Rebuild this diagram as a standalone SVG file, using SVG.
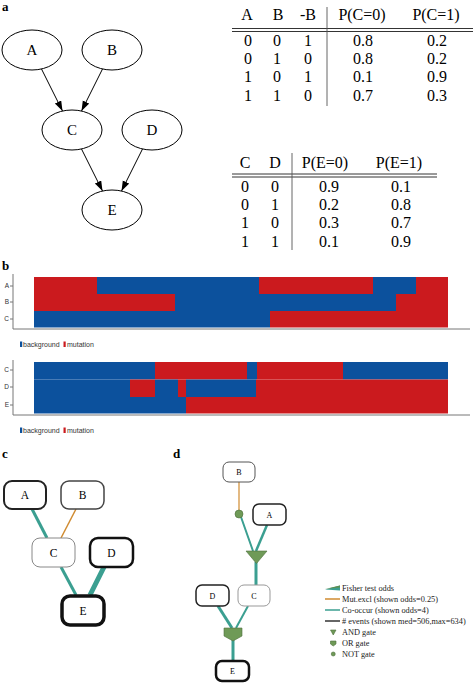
<svg xmlns="http://www.w3.org/2000/svg" width="473" height="685" viewBox="0 0 473 685">
<defs>
<marker id="arr" markerUnits="userSpaceOnUse" markerWidth="11" markerHeight="8" refX="10" refY="3.5" orient="auto"><path d="M0,0 L10,3.5 L0,7 z" fill="#000"/></marker>
<style>
.lbl{font-family:"Liberation Serif",serif;font-weight:bold;font-size:13px;fill:#000}
.ell{fill:#fff;stroke:#000;stroke-width:1}
.et{font-family:"Liberation Serif",serif;font-size:15px;text-anchor:middle;fill:#000}
.tt{font-family:"Liberation Serif",serif;font-size:16px;text-anchor:middle;fill:#000}
.arrow{stroke:#000;stroke-width:1;fill:none;marker-end:url(#arr)}
.ax{stroke:#777;stroke-width:1;fill:none}
.hl{font-family:"Liberation Sans",sans-serif;font-size:6.5px;fill:#333;text-anchor:end}
.lg{font-family:"Liberation Sans",sans-serif;font-size:7px;fill:#333}
.bl{fill:#0c519d}.rd{fill:#cb1a1e}
.rn{fill:#fff}
.ct{font-family:"Liberation Serif",serif;font-size:11.5px;text-anchor:middle;fill:#000}
.dt{font-family:"Liberation Serif",serif;font-size:8px;text-anchor:middle;fill:#000}
.teal{stroke:#3b9f91;fill:none}
.org{stroke:#d08b30;fill:none}
.gate{fill:#6f9a57;stroke:#4d6e3c;stroke-width:0.6}
.lt{font-family:"Liberation Serif",serif;font-size:8.3px;fill:#222}
</style>
</defs>

<!-- Panel labels -->
<text class="lbl" x="2" y="11">a</text>
<text class="lbl" x="2" y="270">b</text>
<text class="lbl" x="2" y="458">c</text>
<text class="lbl" x="173" y="458">d</text>

<!-- Panel a graph -->
<g id="a-edges">
<line class="arrow" x1="41.5" y1="69" x2="62.5" y2="111"/>
<line class="arrow" x1="102.5" y1="69" x2="81.5" y2="111"/>
<line class="arrow" x1="81.5" y1="149" x2="102.5" y2="191"/>
<line class="arrow" x1="142.5" y1="149" x2="121.5" y2="191"/>
</g>
<g id="a-A"><ellipse class="ell" cx="32" cy="50" rx="30" ry="20"/><text class="et" x="32" y="55">A</text></g>
<g id="a-B"><ellipse class="ell" cx="112" cy="50" rx="30" ry="20"/><text class="et" x="112" y="55">B</text></g>
<g id="a-C"><ellipse class="ell" cx="72" cy="130" rx="30" ry="20"/><text class="et" x="72" y="135">C</text></g>
<g id="a-D"><ellipse class="ell" cx="152" cy="130" rx="30" ry="20"/><text class="et" x="152" y="135">D</text></g>
<g id="a-E"><ellipse class="ell" cx="112" cy="210" rx="30" ry="20"/><text class="et" x="112" y="215">E</text></g>

<!-- Table 1 -->
<g id="table1">
<text class="tt" x="247" y="20">A</text>
<text class="tt" x="278" y="20">B</text>
<text class="tt" x="308" y="20">-B</text>
<text class="tt" x="362" y="20">P(C=0)</text>
<text class="tt" x="436" y="20">P(C=1)</text>
<line x1="232" y1="28.5" x2="473" y2="28.5" stroke="#000" stroke-width="0.8"/>
<line x1="232" y1="31.5" x2="473" y2="31.5" stroke="#000" stroke-width="0.8"/>
<line x1="327" y1="7" x2="327" y2="106" stroke="#555" stroke-width="0.9"/>
<text class="tt" x="248" y="46">0</text><text class="tt" x="277" y="46">0</text><text class="tt" x="308" y="46">1</text><text class="tt" x="363" y="46">0.8</text><text class="tt" x="437" y="46">0.2</text>
<text class="tt" x="248" y="64">0</text><text class="tt" x="277" y="64">1</text><text class="tt" x="308" y="64">0</text><text class="tt" x="363" y="64">0.8</text><text class="tt" x="437" y="64">0.2</text>
<text class="tt" x="248" y="82">1</text><text class="tt" x="277" y="82">0</text><text class="tt" x="308" y="82">1</text><text class="tt" x="363" y="82">0.1</text><text class="tt" x="437" y="82">0.9</text>
<text class="tt" x="248" y="101">1</text><text class="tt" x="277" y="101">1</text><text class="tt" x="308" y="101">0</text><text class="tt" x="363" y="101">0.7</text><text class="tt" x="437" y="101">0.3</text>
</g>

<!-- Table 2 -->
<g id="table2">
<text class="tt" x="245" y="168">C</text>
<text class="tt" x="275" y="168">D</text>
<text class="tt" x="325" y="168">P(E=0)</text>
<text class="tt" x="399" y="168">P(E=1)</text>
<line x1="232" y1="174" x2="437" y2="174" stroke="#000" stroke-width="0.8"/>
<line x1="232" y1="177" x2="437" y2="177" stroke="#000" stroke-width="0.8"/>
<line x1="292" y1="153" x2="292" y2="250" stroke="#555" stroke-width="0.9"/>
<text class="tt" x="245" y="192">0</text><text class="tt" x="275" y="192">0</text><text class="tt" x="329" y="192">0.9</text><text class="tt" x="401" y="192">0.1</text>
<text class="tt" x="245" y="210">0</text><text class="tt" x="275" y="210">1</text><text class="tt" x="329" y="210">0.2</text><text class="tt" x="401" y="210">0.8</text>
<text class="tt" x="245" y="228">1</text><text class="tt" x="275" y="228">0</text><text class="tt" x="329" y="228">0.3</text><text class="tt" x="401" y="228">0.7</text>
<text class="tt" x="245" y="247">1</text><text class="tt" x="275" y="247">1</text><text class="tt" x="329" y="247">0.1</text><text class="tt" x="401" y="247">0.9</text>
</g>

<!-- Heatmap 1 -->
<g id="heatmap1">
<rect class="rd" x="34" y="277" width="63" height="17"/>
<rect class="bl" x="97" y="277" width="162" height="17"/>
<rect class="rd" x="259" y="277" width="114" height="17"/>
<rect class="bl" x="373" y="277" width="43" height="17"/>
<rect class="rd" x="416" y="277" width="32" height="17"/>
<rect class="rd" x="34" y="294" width="141" height="17"/>
<rect class="bl" x="175" y="294" width="221" height="17"/>
<rect class="rd" x="396" y="294" width="52" height="17"/>
<rect class="bl" x="34" y="311" width="236" height="16.5"/>
<rect class="rd" x="270" y="311" width="178" height="16.5"/>
<polyline class="ax" points="13,274 13,329 470,329"/>
<line class="ax" x1="10" y1="286" x2="13" y2="286"/>
<line class="ax" x1="10" y1="302" x2="13" y2="302"/>
<line class="ax" x1="10" y1="319" x2="13" y2="319"/>
<text class="hl" x="9" y="288.3">A</text>
<text class="hl" x="9" y="304.3">B</text>
<text class="hl" x="9" y="321.3">C</text>
<rect class="bl" x="20" y="341.5" width="2.2" height="5.5"/>
<text class="lg" x="23" y="347">background</text>
<rect class="rd" x="63.5" y="341.5" width="2.2" height="5.5"/>
<text class="lg" x="67" y="347">mutation</text>
</g>

<!-- Heatmap 2 -->
<g id="heatmap2">
<rect class="bl" x="34" y="362" width="121" height="17.5"/>
<rect class="rd" x="155" y="362" width="92" height="17.5"/>
<rect class="bl" x="247" y="362" width="10" height="17.5"/>
<rect class="rd" x="257" y="362" width="86" height="17.5"/>
<rect class="bl" x="343" y="362" width="105" height="17.5"/>
<rect class="bl" x="34" y="379.5" width="96" height="17.5"/>
<rect class="rd" x="130" y="379.5" width="25" height="17.5"/>
<rect class="bl" x="155" y="379.5" width="23" height="17.5"/>
<rect class="rd" x="178" y="379.5" width="8" height="17.5"/>
<rect class="bl" x="186" y="379.5" width="70" height="17.5"/>
<rect class="rd" x="256" y="379.5" width="192" height="17.5"/>
<rect class="bl" x="34" y="397" width="152" height="16.5"/>
<rect class="rd" x="186" y="397" width="262" height="16.5"/>
<polyline class="ax" points="13,360 13,415 470,415"/>
<line class="ax" x1="10" y1="370" x2="13" y2="370"/>
<line class="ax" x1="10" y1="387" x2="13" y2="387"/>
<line class="ax" x1="10" y1="405" x2="13" y2="405"/>
<text class="hl" x="9" y="372.3">C</text>
<text class="hl" x="9" y="389.3">D</text>
<text class="hl" x="9" y="407.3">E</text>
<rect class="bl" x="20" y="427.5" width="2.2" height="5.5"/>
<text class="lg" x="23" y="433">background</text>
<rect class="rd" x="63.5" y="427.5" width="2.2" height="5.5"/>
<text class="lg" x="67" y="433">mutation</text>
</g>

<!-- Panel c -->
<g id="c-edges">
<line class="teal" x1="32" y1="509" x2="47" y2="538" stroke-width="3"/>
<line class="org" x1="76" y1="509" x2="61" y2="538" stroke-width="1.5"/>
<line class="teal" x1="61" y1="567" x2="76" y2="595" stroke-width="3"/>
<line class="teal" x1="104" y1="567" x2="90" y2="595" stroke-width="5"/>
</g>
<g id="c-A"><rect class="rn" x="4" y="481" width="42" height="28" rx="8" stroke="#222" stroke-width="2"/><text class="ct" x="25" y="499">A</text></g>
<g id="c-B"><rect class="rn" x="61" y="481" width="43" height="28" rx="8" stroke="#444" stroke-width="1.5"/><text class="ct" x="82.5" y="499">B</text></g>
<g id="c-C"><rect class="rn" x="32" y="538" width="43" height="29" rx="8" stroke="#888" stroke-width="1"/><text class="ct" x="53.5" y="557">C</text></g>
<g id="c-D"><rect class="rn" x="90" y="538" width="43" height="29" rx="8" stroke="#111" stroke-width="2.5"/><text class="ct" x="111.5" y="557">D</text></g>
<g id="c-E"><rect class="rn" x="62" y="596" width="42" height="29" rx="8" stroke="#111" stroke-width="3.5"/><text class="ct" x="83" y="615">E</text></g>

<!-- Panel d -->
<g id="d-edges">
<line class="org" x1="239" y1="482" x2="239" y2="511" stroke-width="1.2"/>
<line class="teal" x1="241" y1="517" x2="253" y2="551" stroke-width="2"/>
<line class="teal" x1="267" y1="525" x2="256" y2="551" stroke-width="2.5"/>
<line class="teal" x1="256" y1="562" x2="256" y2="585" stroke-width="3"/>
<line class="teal" x1="218" y1="606" x2="232" y2="628" stroke-width="3"/>
<line class="teal" x1="248" y1="606" x2="236" y2="628" stroke-width="2"/>
<line class="teal" x1="233" y1="640" x2="233" y2="661" stroke-width="3"/>
</g>
<g id="d-B"><rect class="rn" x="223" y="462" width="32" height="20" rx="6" stroke="#555" stroke-width="1"/><text class="dt" x="239" y="475">B</text></g>
<g id="d-A"><rect class="rn" x="253" y="504" width="33" height="21" rx="6" stroke="#222" stroke-width="1.5"/><text class="dt" x="269.5" y="517.5">A</text></g>
<g id="d-C"><rect class="rn" x="238" y="585" width="32" height="21" rx="6" stroke="#999" stroke-width="1"/><text class="dt" x="254" y="598.5">C</text></g>
<g id="d-D"><rect class="rn" x="196" y="585" width="33" height="21" rx="6" stroke="#222" stroke-width="1.5"/><text class="dt" x="212.5" y="598.5">D</text></g>
<g id="d-E"><rect class="rn" x="216" y="661" width="33" height="20" rx="6" stroke="#111" stroke-width="2.5"/><text class="dt" x="232.5" y="674">E</text></g>
<g id="d-not"><circle class="gate" cx="239" cy="514" r="4"/></g>
<g id="d-and"><polygon class="gate" points="246,551 267,551 256.5,563.5"/></g>
<g id="d-or"><polygon class="gate" points="224,628 242,628 242,636 233,641 224,636"/></g>

<!-- Legend d -->
<g id="legend-d">
<polygon points="325,589.5 340,585.5 340,590.5" fill="#3b9f91"/>
<polygon points="325,589 340,585.5 340,587.5" fill="#5f8f52"/>
<text class="lt" x="342" y="590.5">Fisher test odds</text>
<line class="org" x1="325" y1="599" x2="340" y2="599" stroke-width="1.5"/>
<text class="lt" x="342" y="602">Mut.excl (shown odds=0.25)</text>
<line class="teal" x1="325" y1="610" x2="340" y2="610" stroke-width="1.5"/>
<text class="lt" x="342" y="613">Co-occur (shown odds=4)</text>
<line x1="325" y1="621" x2="340" y2="621" stroke="#333" stroke-width="1.5"/>
<text class="lt" x="342" y="624"># events (shown med=506,max=634)</text>
<polygon class="gate" points="330.5,630 336,630 333.25,635"/>
<text class="lt" x="342" y="635">AND gate</text>
<polygon class="gate" points="330.5,641 336,641 336,644 333.25,646 330.5,644"/>
<text class="lt" x="342" y="646">OR gate</text>
<circle class="gate" cx="333.25" cy="654" r="2"/>
<text class="lt" x="342" y="657">NOT gate</text>
</g>
</svg>
